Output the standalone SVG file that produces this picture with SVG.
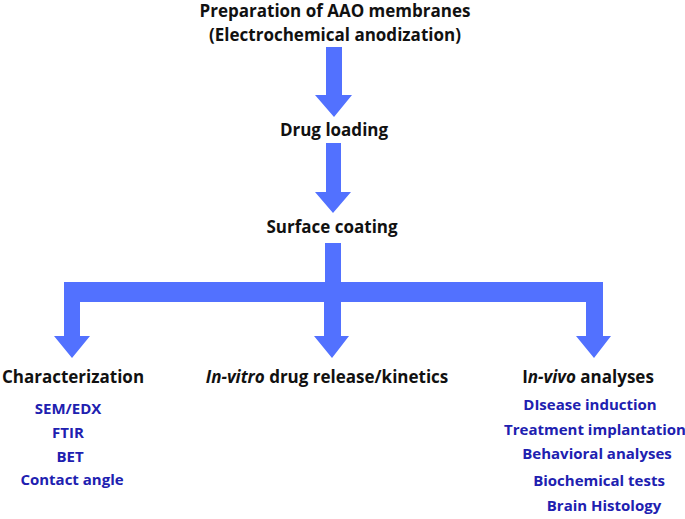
<svg xmlns="http://www.w3.org/2000/svg" width="685" height="519" viewBox="0 0 685 519">
<style>
.a{fill:#5271ff}
.t{font-family:"Open Sans",sans-serif;font-weight:bold;font-size:17px;fill:#111;text-anchor:middle}
.s{font-family:"Open Sans",sans-serif;font-weight:bold;font-size:15px;fill:#2020b0;text-anchor:middle}
</style>
<rect width="685" height="519" fill="#fff"/>
<g id="connectors">
<polygon class="a" points="326,47 342,47 342,95 352,95 334,117 315,95 326,95"/>
<polygon class="a" points="326,143 341,143 341,192 351,192 333,213 315,192 326,192"/>
<polygon class="a" points="325,243 341,243 341,282 603,282 603,336 611,336 594,358 576,336 586,336 586,302 341,302 341,336 349,336 332,358 314,336 324,336 324,302 80,302 80,336 90,336 72,358 54,336 64,336 64,282 325,282"/>
</g>
<g id="prep"><text class="t" x="335" y="17">Preparation of AAO membranes</text><text class="t" x="335" y="41">(Electrochemical anodization)</text></g>
<g id="drug"><text class="t" x="334" y="136">Drug loading</text></g>
<g id="coat"><text class="t" x="332" y="233">Surface coating</text></g>
<g id="char"><text class="t" x="73" y="383">Characterization</text>
<text class="s" x="68" y="414">SEM/EDX</text><text class="s" x="68" y="438">FTIR</text><text class="s" x="70" y="462">BET</text><text class="s" x="72" y="485">Contact angle</text></g>
<g id="invitro"><text class="t" x="327" y="383"><tspan font-style="italic">In-vitro</tspan>  drug release/kinetics</text></g>
<g id="invivo"><text class="t" x="588" y="383">I<tspan font-style="italic">n-vivo</tspan> analyses</text>
<text class="s" x="590" y="410">DIsease induction</text><text class="s" x="595" y="435">Treatment implantation</text><text class="s" x="597" y="459">Behavioral analyses</text><text class="s" x="599" y="486">Biochemical tests</text><text class="s" x="604" y="511">Brain Histology</text></g>
</svg>
